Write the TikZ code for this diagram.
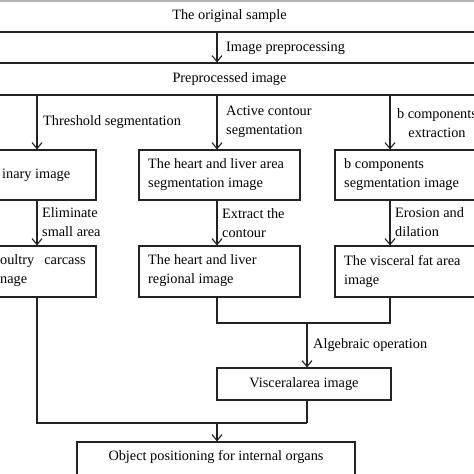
\documentclass[tikz,border=0pt]{standalone}
\usepackage{fontspec}
\setmainfont{Liberation Serif}
\usetikzlibrary{arrows.meta}
\definecolor{ln}{HTML}{222222}
\begin{document}
\begin{tikzpicture}[x=1pt,y=-1pt,
  every node/.style={font=\fontsize{14.3pt}{19pt}\selectfont, inner sep=0pt, text=black},
  box/.style={draw=ln, line width=1.1pt, minimum width=#1, inner sep=0pt},
  lbl/.style={anchor=west, align=left},
  link/.style={draw=ln, line width=1.1pt},
  arr/.style={link, -{Straight Barb[length=6pt,width=10pt,line width=1.1pt]}}]
\useasboundingbox (0,0) rectangle (474,474);
\clip (0,0) rectangle (474,474);
\fill[white] (0,0) rectangle (474,474);
\fill[black!30] (0,0) rectangle (474,2);
% column coordinates
\coordinate (ca) at (37,0);
\coordinate (cb) at (217,0);
\coordinate (cc) at (390,0);
% boxes
\node[box=494pt, minimum height=42pt] (p1) at (237,11) {};
\node[box=494pt, minimum height=32pt] (p2) at (237,79) {};
\node[box=116pt, minimum height=50pt] (a1) at (38,175) {};
\node[box=116pt, minimum height=51pt] (a2) at (38,271.5) {};
\node[box=161pt, minimum height=50pt] (b1) at (219.5,175) {};
\node[box=161pt, minimum height=51pt] (b2) at (219.5,271.5) {};
\node[box=165pt, minimum height=50pt] (c1) at (417.5,175) {};
\node[box=165pt, minimum height=51pt] (c2) at (417.5,271.5) {};
\node[box=174pt, minimum height=32pt] (v) at (304,384) {};
\node[box=278pt, minimum height=48pt] (o) at (216,466) {};
% box texts
\node (t1) at (229.5,16) {The original sample};
\node (t2) at (229.5,79) {Preprocessed image};
\node[lbl] (ta1) at (2,175) {inary image};
\node[lbl] (ta2) at (0,271) {oultry\hspace{10pt}carcass\\nage};
\node[lbl] (tb1) at (148,175) {The heart and liver area\\segmentation image};
\node[lbl] (tb2) at (148,271) {The heart and liver\\regional image};
\node[lbl] (tc1) at (344,175) {b components\\segmentation image};
\node[lbl] (tc2) at (344,272) {The visceral fat area\\image};
\node (tv) at (304,384) {Visceralarea image};
\node (to) at (216,457) {Object positioning for internal organs};
% arrow labels
\node[lbl] (l1) at (226,48) {Image preprocessing};
\node[lbl] (l2) at (43,122) {Threshold segmentation};
\node[lbl] (l3) at (226,122) {Active contour\\segmentation};
\node[align=center] (l4) at (437,123) {b components\\extraction};
\node[lbl] (l5) at (42,222) {Eliminate\\small area};
\node[lbl] (l6) at (222,223) {Extract the\\contour};
\node[lbl] (l7) at (395,222) {Erosion and\\dilation};
\node[lbl] (l8) at (313,345) {Algebraic operation};
% connectors
\draw[arr] (p1.south -| cb) -- (p2.north -| cb);
\draw[arr] (p2.south -| ca) -- (a1.north -| ca);
\draw[arr] (p2.south -| cb) -- (b1.north -| cb);
\draw[arr] (p2.south -| cc) -- (c1.north -| cc);
\draw[arr] (a1.south -| ca) -- (a2.north -| ca);
\draw[arr] (b1.south -| cb) -- (b2.north -| cb);
\draw[arr] (c1.south -| cc) -- (c2.north -| cc);
\coordinate (jm) at (307,323);
\coordinate (jb) at (307,423);
\coordinate (jo) at (217,423);
\draw[link] (b2.south -| cb) |- (jm);
\draw[link] (c2.south -| cc) |- (jm);
\draw[arr] (jm) -- (v.north -| jm);
\draw[link] (a2.south -| ca) |- (jb);
\draw[link] (v.south -| jb) -- (jb);
\draw[arr] (jo) -- (o.north -| jo);
\end{tikzpicture}
\end{document}
